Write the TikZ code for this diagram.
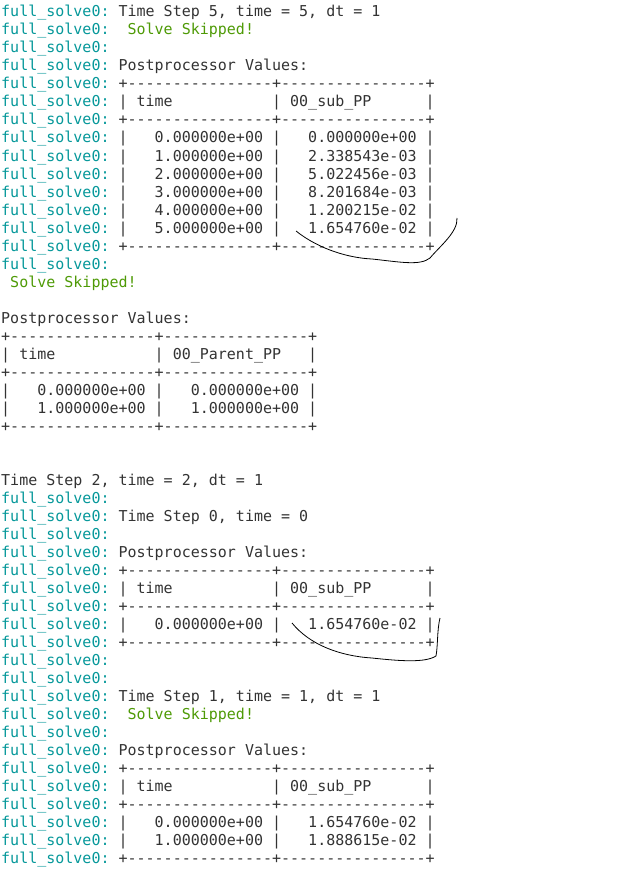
\documentclass[tikz,border=0pt]{standalone}
\usepackage{fontspec}
\setmonofont{DejaVu Sans Mono}
\definecolor{pref}{HTML}{06989A}
\definecolor{grn}{HTML}{4E9A06}
\definecolor{ink}{HTML}{333333}
\tikzset{txt/.style={anchor=base west,inner sep=0pt,font=\ttfamily\fontsize{15}{18}\selectfont,text=ink}}
\newcommand\pre[1]{\node[txt,text=pref] (p#1) at (1,{12+18*(#1-1)+5}) {full\_solve0:};}
\newcommand\mytx[3]{\node[txt] (t#1) at ({1+9.03*#2},{12+18*(#1-1)+5}) {#3};}
\newcommand\grn[3]{\node[txt,text=grn] (g#1) at ({1+9.03*#2},{12+18*(#1-1)+5}) {#3};}
\def\rule{+----------------+----------------+}
\begin{document}
\begin{tikzpicture}[x=1pt,y=-1pt]
\useasboundingbox (0,0) rectangle (633,869);
\foreach \k in {1,2,3,4,5,6,7,8,9,10,11,12,13,14,15,28,29,30,31,32,33,34,35,36,37,38,39,40,41,42,43,44,45,46,47,48} {\pre{\k}}
\mytx{1}{13}{Time~Step~5,~time~=~5,~dt~=~1}
\grn{2}{14}{Solve~Skipped!}
\mytx{4}{13}{Postprocessor~Values:}
\mytx{5}{13}{\rule}
\mytx{6}{13}{|~time~~~~~~~~~~~|~00\_sub\_PP~~~~~~|}
\mytx{7}{13}{\rule}
\mytx{8}{13}{|~~~0.000000e+00~|~~~0.000000e+00~|}
\mytx{9}{13}{|~~~1.000000e+00~|~~~2.338543e-03~|}
\mytx{10}{13}{|~~~2.000000e+00~|~~~5.022456e-03~|}
\mytx{11}{13}{|~~~3.000000e+00~|~~~8.201684e-03~|}
\mytx{12}{13}{|~~~4.000000e+00~|~~~1.200215e-02~|}
\mytx{13}{13}{|~~~5.000000e+00~|~~~1.654760e-02~|}
\mytx{14}{13}{\rule}
\grn{16}{1}{Solve~Skipped!}
\mytx{18}{0}{Postprocessor~Values:}
\mytx{19}{0}{\rule}
\mytx{20}{0}{|~time~~~~~~~~~~~|~00\_Parent\_PP~~~|}
\mytx{21}{0}{\rule}
\mytx{22}{0}{|~~~0.000000e+00~|~~~0.000000e+00~|}
\mytx{23}{0}{|~~~1.000000e+00~|~~~1.000000e+00~|}
\mytx{24}{0}{\rule}
\mytx{27}{0}{Time~Step~2,~time~=~2,~dt~=~1}
\mytx{29}{13}{Time~Step~0,~time~=~0}
\mytx{31}{13}{Postprocessor~Values:}
\mytx{32}{13}{\rule}
\mytx{33}{13}{|~time~~~~~~~~~~~|~00\_sub\_PP~~~~~~|}
\mytx{34}{13}{\rule}
\mytx{35}{13}{|~~~0.000000e+00~|~~~1.654760e-02~|}
\mytx{36}{13}{\rule}
\mytx{39}{13}{Time~Step~1,~time~=~1,~dt~=~1}
\grn{40}{14}{Solve~Skipped!}
\mytx{42}{13}{Postprocessor~Values:}
\mytx{43}{13}{\rule}
\mytx{44}{13}{|~time~~~~~~~~~~~|~00\_sub\_PP~~~~~~|}
\mytx{45}{13}{\rule}
\mytx{46}{13}{|~~~0.000000e+00~|~~~1.654760e-02~|}
\mytx{47}{13}{|~~~1.000000e+00~|~~~1.888615e-02~|}
\mytx{48}{13}{\rule}
\draw[black,line width=0.8pt] (296,231) .. controls (320,250) and (350,258) .. (372,259) .. controls (400,262) and (420,266) .. (430,258) .. controls (440,246) and (458,232) .. (457,218);
\draw[black,line width=0.8pt] (292,623) .. controls (310,645) and (340,656) .. (372,658) .. controls (400,661) and (425,663) .. (436,656) .. controls (438,645) and (437,630) .. (440,618);
\end{tikzpicture}
\end{document}
